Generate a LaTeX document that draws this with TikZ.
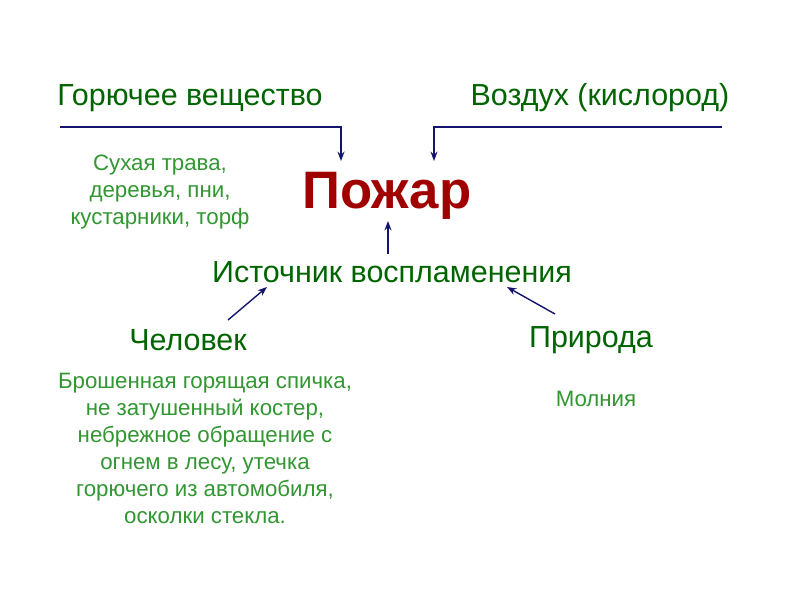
\documentclass[tikz,border=0pt]{standalone}
\usepackage{fontspec}
\setmainfont{Liberation Sans}
\usetikzlibrary{arrows.meta}
\begin{document}
\begin{tikzpicture}[x=0.03cm,y=-0.03cm,
  head/.style={text=dkgreen,font=\fontsize{26pt}{30pt}\selectfont,inner sep=0},
  small/.style={text=ltgreen,font=\fontsize{19pt}{23pt}\selectfont,align=center,inner sep=0},
  arr/.style={draw=navy,line width=1.2pt,-{Stealth[length=8pt,width=6pt]}}]
\definecolor{dkgreen}{RGB}{0,100,0}
\definecolor{ltgreen}{RGB}{50,150,50}
\definecolor{navy}{RGB}{20,20,110}
\definecolor{dkred}{RGB}{160,0,0}
\useasboundingbox (0,0) rectangle (800,600);
\fill[white] (0,0) rectangle (800,600);
\node[head] (fuel) at (190,98) {Горючее вещество};
\node[head] (air) at (600,98) {Воздух (кислород)};
\node[text=dkred,font=\bfseries\fontsize{45pt}{50pt}\selectfont,inner sep=0] (fire) at (387,196) {Пожар};
\node[small] (grass) at (160,192) {Сухая трава,\\деревья, пни,\\кустарники, торф};
\node[head] (src) at (392,272) {Источник воспламенения};
\node[head] (man) at (188,340) {Человек};
\node[head] (nat) at (591,340) {Природа};
\node[small,anchor=north] (manlist) at (205,373) {Брошенная горящая спичка,\\не затушенный костер,\\небрежное обращение с\\огнем в лесу, утечка\\горючего из автомобиля,\\осколки стекла.};
\node[small] (light) at (596,399) {Молния};
\coordinate (f0) at (60,127);
\coordinate (f1) at (341,127);
\coordinate (f2) at (341,161);
\coordinate (a0) at (722,127);
\coordinate (a1) at (434,127);
\coordinate (a2) at (434,161);
\draw[arr] (f0) -- (f1) -- (f2);
\draw[arr] (a0) -- (a1) -- (a2);
\coordinate (s0) at (388,254);
\coordinate (s1) at (388,221);
\draw[arr] (s0) -- (s1);
\coordinate (m0) at (228,320);
\coordinate (m1) at (267,287);
\draw[arr] (m0) -- (m1);
\coordinate (n0) at (555,314);
\coordinate (n1) at (507,287);
\draw[arr] (n0) -- (n1);
\end{tikzpicture}
\end{document}
